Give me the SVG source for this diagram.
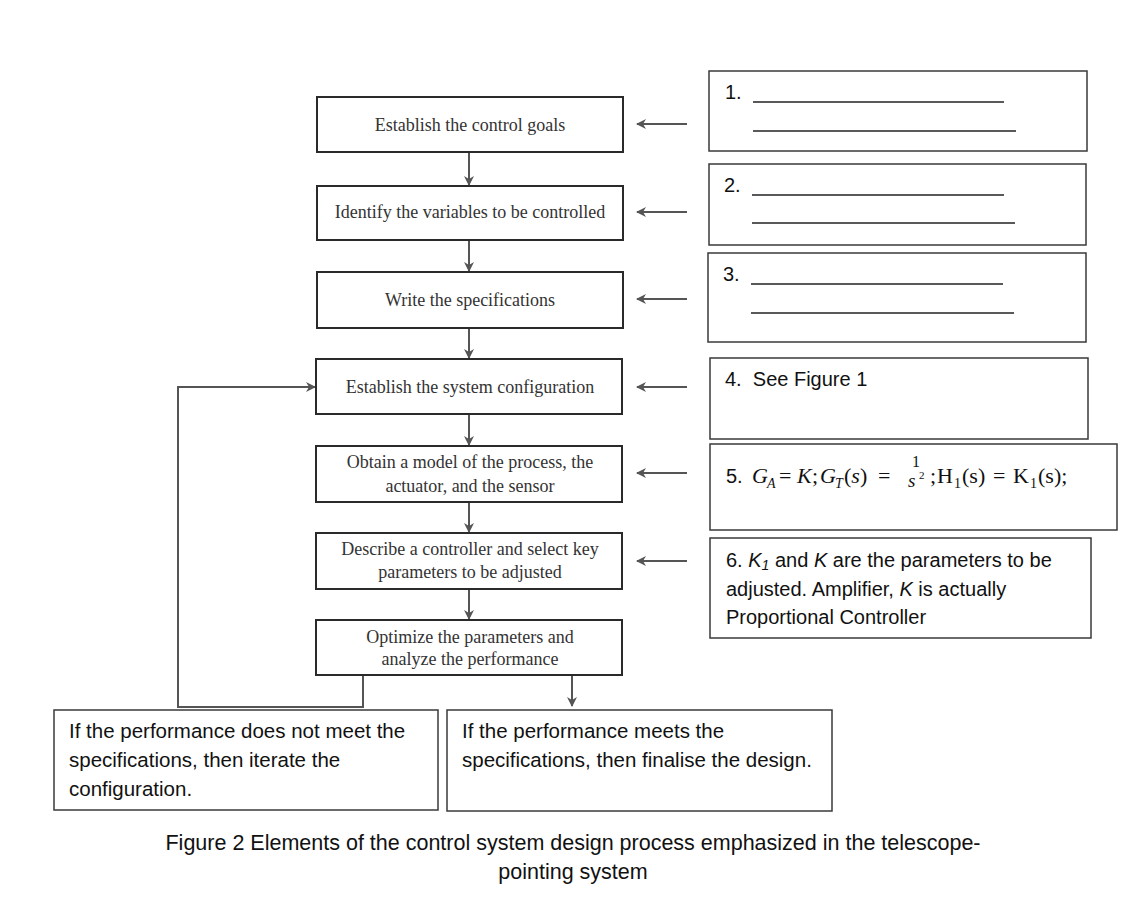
<svg xmlns="http://www.w3.org/2000/svg" width="1144" height="912" viewBox="0 0 1144 912">
<style>
.fbox{fill:#fff;stroke:#2a2a2a;stroke-width:2}
.ftxt{font-family:"Liberation Serif","Times New Roman",serif;font-size:18px;fill:#333;text-anchor:middle}
.rbox{fill:#fff;stroke:#3a3a3a;stroke-width:1.5}
.rtxt{font-family:"Liberation Sans",Arial,sans-serif;font-size:20px;fill:#111}
.btxt{font-family:"Liberation Sans",Arial,sans-serif;font-size:20.5px;fill:#111}
.cap{font-family:"Liberation Sans",Arial,sans-serif;font-size:21.5px;fill:#111;text-anchor:middle}
.uline{stroke:#222;stroke-width:1.3}
.conn{fill:none;stroke:#555;stroke-width:2}
.math{font-family:"Liberation Serif","Times New Roman",serif;font-size:22px;fill:#111}
.mi{font-style:italic}
.sub{font-size:14px}
.fn{font-size:16px}
.fd{font-size:19px}
.fs{font-size:11px}
</style>
<defs>
<marker id="ah" viewBox="0 0 10 10" refX="9" refY="5" markerWidth="5" markerHeight="5" orient="auto" markerUnits="strokeWidth">
<path d="M0,0 L10,5 L0,10 L3,5 z" fill="#555"/>
</marker>
</defs>
<rect width="1144" height="912" fill="#fff"/>

<g id="connectors">
<line class="conn" x1="469" y1="152" x2="469" y2="185" marker-end="url(#ah)"/>
<line class="conn" x1="469" y1="240" x2="469" y2="271" marker-end="url(#ah)"/>
<line class="conn" x1="469" y1="328" x2="469" y2="358" marker-end="url(#ah)"/>
<line class="conn" x1="469" y1="414" x2="469" y2="445" marker-end="url(#ah)"/>
<line class="conn" x1="469" y1="502" x2="469" y2="532" marker-end="url(#ah)"/>
<line class="conn" x1="469" y1="589" x2="469" y2="619" marker-end="url(#ah)"/>
<line class="conn" x1="687" y1="124" x2="637" y2="124" marker-end="url(#ah)"/>
<line class="conn" x1="687" y1="212" x2="637" y2="212" marker-end="url(#ah)"/>
<line class="conn" x1="687" y1="299" x2="637" y2="299" marker-end="url(#ah)"/>
<line class="conn" x1="687" y1="387" x2="637" y2="387" marker-end="url(#ah)"/>
<line class="conn" x1="687" y1="473" x2="637" y2="473" marker-end="url(#ah)"/>
<line class="conn" x1="687" y1="561" x2="637" y2="561" marker-end="url(#ah)"/>
<path class="conn" d="M363,675 V707 H178 V387 H315" marker-end="url(#ah)"/>
<line class="conn" x1="572" y1="675" x2="572" y2="706" marker-end="url(#ah)"/>
</g>

<g id="goals">
<rect class="fbox" x="317" y="97" width="306" height="55"/>
<text class="ftxt" x="470" y="131">Establish the control goals</text>
</g>
<g id="variables">
<rect class="fbox" x="317" y="186" width="306" height="54"/>
<text class="ftxt" x="470" y="218">Identify the variables to be controlled</text>
</g>
<g id="specs">
<rect class="fbox" x="317" y="272" width="306" height="56"/>
<text class="ftxt" x="470" y="306">Write the specifications</text>
</g>
<g id="config">
<rect class="fbox" x="316" y="359" width="306" height="55"/>
<text class="ftxt" x="470" y="393">Establish the system configuration</text>
</g>
<g id="model">
<rect class="fbox" x="316" y="446" width="306" height="56"/>
<text class="ftxt" x="470" y="468">Obtain a model of the process, the</text>
<text class="ftxt" x="470" y="492">actuator, and the sensor</text>
</g>
<g id="controller">
<rect class="fbox" x="316" y="533" width="306" height="56"/>
<text class="ftxt" x="470" y="555">Describe a controller and select key</text>
<text class="ftxt" x="470" y="578">parameters to be adjusted</text>
</g>
<g id="optimize">
<rect class="fbox" x="316" y="620" width="306" height="55"/>
<text class="ftxt" x="470" y="643">Optimize the parameters and</text>
<text class="ftxt" x="470" y="665">analyze the performance</text>
</g>

<g id="note1">
<rect class="rbox" x="709" y="71" width="378" height="80"/>
<text class="rtxt" x="725" y="99">1.</text>
<line class="uline" x1="753" y1="102" x2="1004" y2="102"/>
<line class="uline" x1="753" y1="131" x2="1016" y2="131"/>
</g>
<g id="note2">
<rect class="rbox" x="709" y="164" width="377" height="81"/>
<text class="rtxt" x="724" y="192">2.</text>
<line class="uline" x1="752" y1="195" x2="1004" y2="195"/>
<line class="uline" x1="752" y1="223" x2="1015" y2="223"/>
</g>
<g id="note3">
<rect class="rbox" x="708" y="253" width="378" height="89"/>
<text class="rtxt" x="723" y="281">3.</text>
<line class="uline" x1="751" y1="284" x2="1003" y2="284"/>
<line class="uline" x1="751" y1="313" x2="1014" y2="313"/>
</g>
<g id="note4">
<rect class="rbox" x="710" y="358" width="378" height="81"/>
<text class="rtxt" x="725" y="386" xml:space="preserve">4.  See Figure 1</text>
</g>
<g id="note5">
<rect class="rbox" x="710" y="444" width="407" height="86"/>
<text class="rtxt" x="726" y="483">5.</text>
<text class="math mi" x="752" y="483">G</text>
<text class="math mi sub" x="767" y="488">A</text>
<text class="math" x="779" y="483">=</text>
<text class="math mi" x="797" y="483">K</text>
<text class="math" x="812" y="483">;</text>
<text class="math mi" x="820" y="483">G</text>
<text class="math mi sub" x="835" y="488">T</text>
<text class="math" x="844" y="483">(<tspan class="mi">s</tspan>)</text>
<text class="math" x="878" y="483">=</text>
<text class="math fn" x="912" y="467">1</text>
<text class="math mi fd" x="908" y="487">s</text>
<text class="math fs" x="919" y="479">2</text>
<text class="math" x="930" y="483">;</text>
<text class="math" x="937" y="483">H</text>
<text class="math sub" x="954" y="488">1</text>
<text class="math" x="962" y="483">(s)</text>
<text class="math" x="993" y="483">=</text>
<text class="math" x="1013" y="483">K</text>
<text class="math sub" x="1030" y="488">1</text>
<text class="math" x="1038" y="483">(s);</text>
</g>
<g id="note6">
<rect class="rbox" x="710" y="538" width="381" height="100"/>
<text class="rtxt" x="726" y="567">6. <tspan font-style="italic">K</tspan><tspan font-style="italic" style="font-size:14px" dy="3">1</tspan><tspan dy="-3"> and </tspan><tspan font-style="italic">K</tspan> are the parameters to be</text>
<text class="rtxt" x="726" y="596">adjusted. Amplifier, <tspan font-style="italic">K</tspan> is actually</text>
<text class="rtxt" x="726" y="624">Proportional Controller</text>
</g>

<g id="fail">
<rect class="rbox" x="54" y="710" width="384" height="100"/>
<text class="btxt" x="69" y="738">If the performance does not meet the</text>
<text class="btxt" x="69" y="767">specifications, then iterate the</text>
<text class="btxt" x="69" y="796">configuration.</text>
</g>
<g id="pass">
<rect class="rbox" x="447" y="710" width="385" height="101"/>
<text class="btxt" x="462" y="738">If the performance meets the</text>
<text class="btxt" x="462" y="767">specifications, then finalise the design.</text>
</g>

<g id="caption">
<text class="cap" x="573" y="850">Figure 2 Elements of the control system design process emphasized in the telescope-</text>
<text class="cap" x="573" y="879">pointing system</text>
</g>
</svg>
